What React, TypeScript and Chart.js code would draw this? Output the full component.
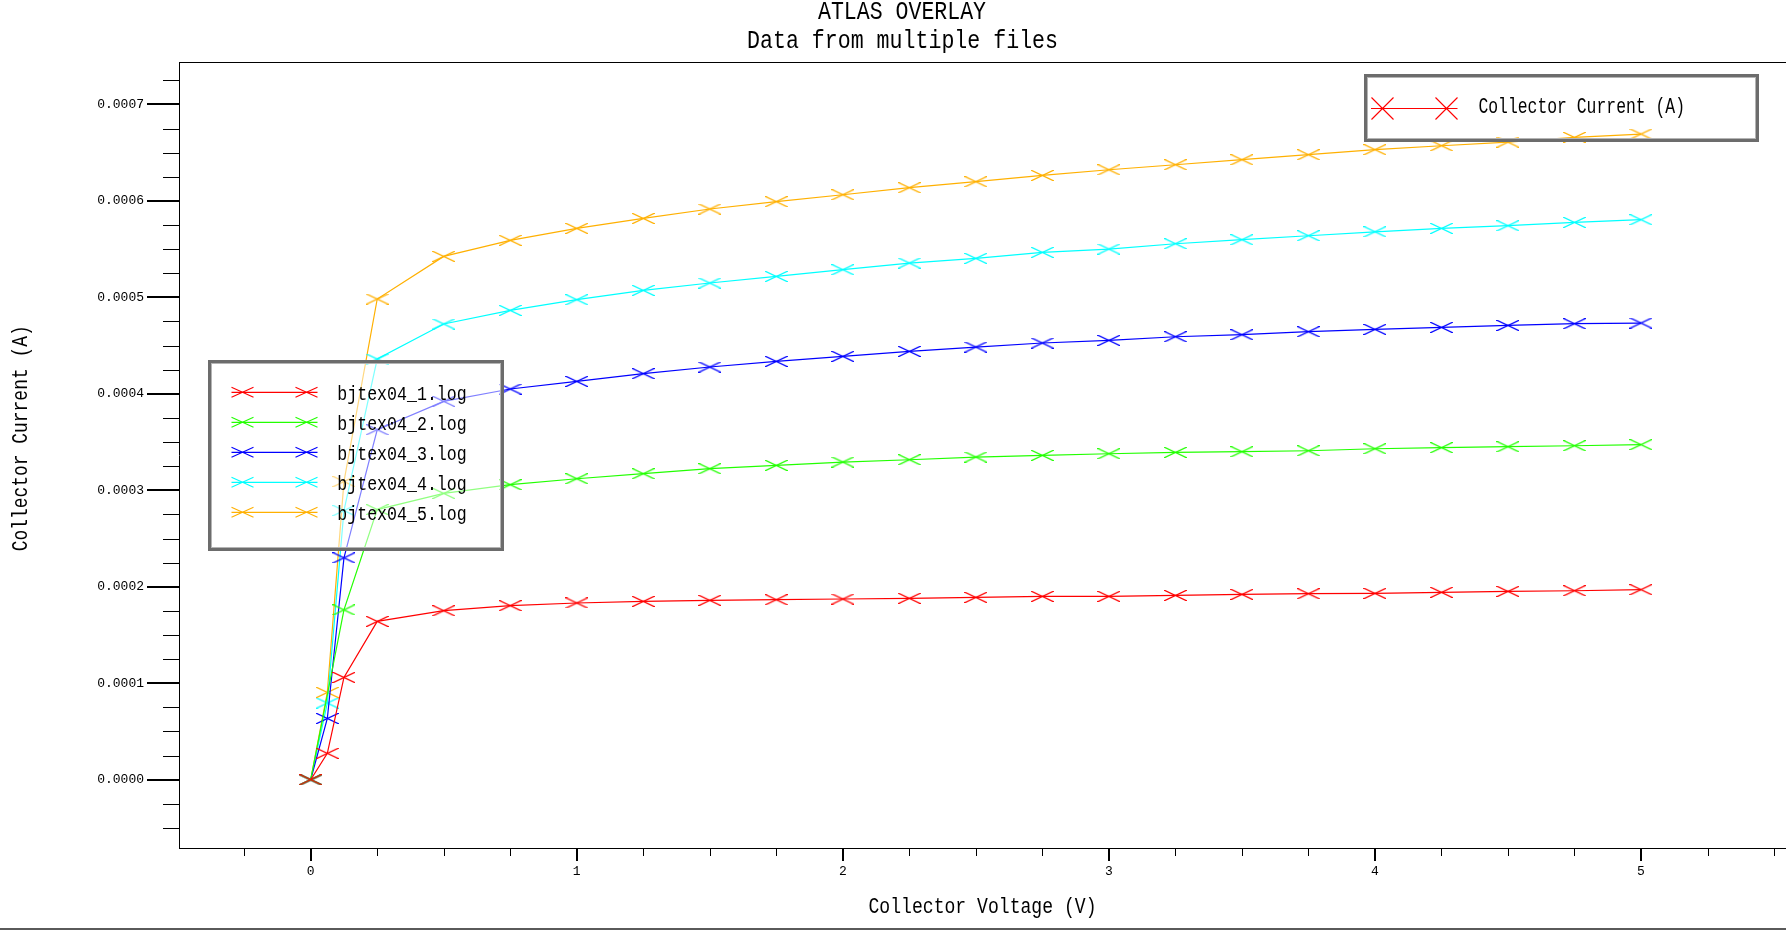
import React, { useEffect, useRef } from 'react';
import { Chart, registerables } from 'chart.js';

Chart.register(...registerables);

// ---------------- data ----------------
const TITLE_LINES = ['ATLAS OVERLAY', 'Data from multiple files'];
const X_TITLE = 'Collector Voltage (V)';
const Y_TITLE = 'Collector Current (A)';
const QUANTITY_LEGEND = 'Collector Current (A)';

const VOLTAGE = [0, 0.0625, 0.125, 0.25, 0.5, 0.75, 1, 1.25, 1.5, 1.75, 2, 2.25, 2.5, 2.75, 3, 3.25, 3.5, 3.75, 4, 4.25, 4.5, 4.75, 5];

const SERIES_NAMES = ['bjtex04_1.log', 'bjtex04_2.log', 'bjtex04_3.log', 'bjtex04_4.log', 'bjtex04_5.log'];
const SERIES_COLORS = ['#ff0000', '#22ff00', '#0000ff', '#00ffff', '#ffb000'];

const CURRENT_1 = [0, 0.0000273, 0.000106, 0.0001641, 0.0001752, 0.0001804, 0.0001832, 0.0001848, 0.0001859, 0.0001866, 0.0001873, 0.000188, 0.000189, 0.00019, 0.00019, 0.000191, 0.0001921, 0.0001928, 0.0001931, 0.0001942, 0.0001952, 0.0001959, 0.000197];
const CURRENT_2 = [0, null, 0.000176, 0.00028, 0.0002968, 0.0003058, 0.000312, 0.0003172, 0.0003224, 0.0003258, 0.0003293, 0.0003317, 0.0003345, 0.0003362, 0.0003379, 0.0003393, 0.00034, 0.000341, 0.0003431, 0.0003442, 0.0003452, 0.0003462, 0.0003473];
const CURRENT_3 = [0, 0.0000635, 0.00023, 0.0003628, 0.0003922, 0.000405, 0.0004129, 0.0004209, 0.0004278, 0.0004336, 0.0004388, 0.000444, 0.0004485, 0.0004527, 0.0004554, 0.0004592, 0.0004613, 0.0004644, 0.0004668, 0.0004689, 0.0004709, 0.0004727, 0.0004734];
const CURRENT_4 = [0, 0.0000795, 0.000279, 0.0004361, 0.0004724, 0.0004865, 0.0004976, 0.0005072, 0.0005149, 0.0005217, 0.0005287, 0.0005356, 0.0005404, 0.0005466, 0.0005501, 0.0005556, 0.0005598, 0.0005639, 0.000568, 0.0005715, 0.0005743, 0.0005777, 0.0005805];
const CURRENT_5 = [0, 0.0000905, 0.000309, 0.0004983, 0.0005425, 0.0005591, 0.0005715, 0.0005818, 0.0005916, 0.0005992, 0.0006064, 0.0006137, 0.0006199, 0.0006264, 0.0006323, 0.0006375, 0.0006427, 0.0006479, 0.0006531, 0.0006572, 0.000661, 0.0006658, 0.0006693];

const SERIES_VALUES = [CURRENT_1, CURRENT_2, CURRENT_3, CURRENT_4, CURRENT_5];

const X_MAJOR_TICKS = [0, 1, 2, 3, 4, 5];
const X_MINOR_TICKS = [-0.25, 0.25, 0.5, 0.75, 1.25, 1.5, 1.75, 2.25, 2.5, 2.75, 3.25, 3.5, 3.75, 4.25, 4.5, 4.75, 5.25, 5.5];
const Y_MAJOR_TICKS = [0, 0.0001, 0.0002, 0.0003, 0.0004, 0.0005, 0.0006, 0.0007];
const Y_MINOR_TICKS = [-0.00005, -0.000025, 0.000025, 0.00005, 0.000075, 0.000125, 0.00015, 0.000175, 0.000225, 0.00025, 0.000275, 0.000325, 0.00035, 0.000375, 0.000425, 0.00045, 0.000475, 0.000525, 0.00055, 0.000575, 0.000625, 0.00065, 0.000675, 0.000725];

const X_MIN = -0.495;
const X_MAX = 5.545;
const Y_MIN = -0.0000708;
const Y_MAX = 0.000744;

// ---------------- helpers ----------------
const FONT = '"Liberation Mono", "DejaVu Sans Mono", monospace';

function makeCross(color: string, w: number, h: number): HTMLCanvasElement {
  const c = document.createElement('canvas');
  c.width = w;
  c.height = h;
  const g = c.getContext('2d')!;
  g.strokeStyle = color;
  g.lineWidth = 1.2;
  g.beginPath();
  g.moveTo(0, 0);
  g.lineTo(w, h);
  g.moveTo(w, 0);
  g.lineTo(0, h);
  g.stroke();
  return c;
}

function drawFitText(
  ctx: CanvasRenderingContext2D,
  text: string,
  x: number,
  y: number,
  size: number,
  width: number,
  align: 'left' | 'center',
  color = '#000'
) {
  ctx.save();
  ctx.font = `${size}px ${FONT}`;
  ctx.textBaseline = 'alphabetic';
  ctx.textAlign = 'left';
  ctx.fillStyle = color;
  const natural = ctx.measureText(text).width;
  const sx = width / natural;
  const x0 = align === 'center' ? x - width / 2 : x;
  ctx.translate(x0, y);
  ctx.scale(sx, 1);
  ctx.fillText(text, 0, 0);
  ctx.restore();
}

function drawCross(ctx: CanvasRenderingContext2D, cx: number, cy: number, hw: number, hh: number, color: string) {
  ctx.save();
  ctx.strokeStyle = color;
  ctx.lineWidth = 1.1;
  ctx.beginPath();
  ctx.moveTo(cx - hw, cy - hh);
  ctx.lineTo(cx + hw, cy + hh);
  ctx.moveTo(cx + hw, cy - hh);
  ctx.lineTo(cx - hw, cy + hh);
  ctx.stroke();
  ctx.restore();
}

function drawBox(ctx: CanvasRenderingContext2D, x0: number, y0: number, x1: number, y1: number, fill: string | null) {
  ctx.save();
  if (fill) {
    ctx.fillStyle = fill;
    ctx.fillRect(x0, y0, x1 - x0, y1 - y0);
  }
  ctx.strokeStyle = '#6c6c6c';
  ctx.lineWidth = 3;
  ctx.strokeRect(x0 + 1.5, y0 + 1.5, x1 - x0 - 3, y1 - y0 - 3);
  ctx.strokeStyle = '#b4b4b4';
  ctx.lineWidth = 1;
  ctx.strokeRect(x0 + 3.5, y0 + 3.5, x1 - x0 - 7, y1 - y0 - 7);
  ctx.restore();
}

const decorPlugin = {
  id: 'atlasDecor',
  afterDraw(chart: any) {
    const ctx: CanvasRenderingContext2D = chart.ctx;
    const area = chart.chartArea;
    const xs = chart.scales.x;
    const ys = chart.scales.y;

    ctx.save();
    ctx.fillStyle = '#000';
    // top frame line
    ctx.fillRect(Math.round(area.left), Math.round(area.top), Math.round(area.right - area.left), 1);

    // y ticks (outside, to the left)
    for (const v of Y_MAJOR_TICKS) {
      const py = Math.round(ys.getPixelForValue(v));
      ctx.fillRect(Math.round(area.left) - 32, py - 1, 32, 2);
    }
    for (const v of Y_MINOR_TICKS) {
      const py = Math.round(ys.getPixelForValue(v));
      ctx.fillRect(Math.round(area.left) - 16, py, 16, 1);
    }
    // x ticks (outside, below)
    const by = Math.round(area.bottom);
    for (const v of X_MAJOR_TICKS) {
      const px = Math.round(xs.getPixelForValue(v));
      ctx.fillRect(px - 1, by, 2, 13);
    }
    for (const v of X_MINOR_TICKS) {
      const px = Math.round(xs.getPixelForValue(v));
      ctx.fillRect(px, by, 1, 8);
    }
    ctx.restore();

    // titles
    drawFitText(ctx, TITLE_LINES[0], 902, 19, 25, 168, 'center');
    drawFitText(ctx, TITLE_LINES[1], 902.5, 47.5, 25, 311, 'center');
    drawFitText(ctx, X_TITLE, (area.left + area.right) / 2, 913, 22, 228, 'center');
    ctx.save();
    ctx.translate(26.8, 438.3);
    ctx.rotate(-Math.PI / 2);
    drawFitText(ctx, Y_TITLE, 0, 0, 22, 226, 'center');
    ctx.restore();

    // series legend (semi-transparent, over the data)
    drawBox(ctx, 208, 360, 504, 551, 'rgba(255,255,255,0.5)');
    SERIES_NAMES.forEach((name, i) => {
      const ry = 392.3 + i * 30;
      const c = SERIES_COLORS[i];
      ctx.save();
      ctx.strokeStyle = c;
      ctx.lineWidth = 1.2;
      ctx.beginPath();
      ctx.moveTo(231.5, ry);
      ctx.lineTo(317.5, ry);
      ctx.stroke();
      ctx.restore();
      drawCross(ctx, 242.5, ry, 11, 5, c);
      drawCross(ctx, 306.5, ry, 11, 5, c);
      drawFitText(ctx, name, 337.3, ry + 7.7, 20, 129.4, 'left');
    });

    // quantity legend (top right)
    drawBox(ctx, 1364, 74, 1759, 142, null);
    ctx.save();
    ctx.strokeStyle = SERIES_COLORS[0];
    ctx.lineWidth = 1.2;
    ctx.beginPath();
    ctx.moveTo(1371, 108.5);
    ctx.lineTo(1457.5, 108.5);
    ctx.stroke();
    ctx.restore();
    drawCross(ctx, 1382.5, 108.5, 11, 11, SERIES_COLORS[0]);
    drawCross(ctx, 1446.5, 108.5, 11, 11, SERIES_COLORS[0]);
    drawFitText(ctx, QUANTITY_LEGEND, 1478.4, 112.7, 22, 206.6, 'left');

    // window bottom line
    ctx.save();
    ctx.fillStyle = '#5a5a5a';
    ctx.fillRect(0, 928, chart.width, 2);
    ctx.restore();
  },
};

export default function App() {
  const ref = useRef<HTMLCanvasElement | null>(null);

  useEffect(() => {
    const canvas = ref.current;
    if (!canvas) return;

    const datasets = SERIES_NAMES.map((name, i) => ({
      label: name,
      data: VOLTAGE.map((v, j) => ({ x: v, y: SERIES_VALUES[i][j] })),
      borderColor: SERIES_COLORS[i],
      backgroundColor: SERIES_COLORS[i],
      borderWidth: 1.2,
      pointStyle: makeCross(SERIES_COLORS[i], 23, 11),
      pointRadius: 11,
      pointHoverRadius: 11,
      spanGaps: true,
      tension: 0,
      fill: false,
    }));

    const chart = new Chart(canvas, {
      type: 'line',
      data: { datasets } as any,
      options: {
        responsive: false,
        animation: false,
        devicePixelRatio: 1,
        events: [],
        layout: { autoPadding: false, padding: { top: 62, left: 0, right: 0, bottom: 0 } },
        plugins: {
          legend: { display: false },
          title: { display: false },
          tooltip: { enabled: false },
        },
        scales: {
          x: {
            type: 'linear',
            position: 'bottom',
            min: X_MIN,
            max: X_MAX,
            afterBuildTicks: (s: any) => {
              s.ticks = X_MAJOR_TICKS.map((v) => ({ value: v }));
            },
            afterFit: (s: any) => {
              s.height = 82;
              s.paddingLeft = 0;
              s.paddingRight = 0;
            },
            grid: { display: false, drawTicks: false },
            border: { display: true, color: '#000', width: 1 },
            ticks: {
              autoSkip: false,
              maxRotation: 0,
              minRotation: 0,
              padding: 16,
              color: '#000',
              font: { family: FONT, size: 13 },
              callback: (v: any) => String(Number(v)),
            },
          },
          y: {
            type: 'linear',
            position: 'left',
            min: Y_MIN,
            max: Y_MAX,
            afterBuildTicks: (s: any) => {
              s.ticks = Y_MAJOR_TICKS.map((v) => ({ value: v }));
            },
            afterFit: (s: any) => {
              s.width = 179;
              s.paddingTop = 0;
              s.paddingBottom = 0;
            },
            grid: { display: false, drawTicks: false },
            border: { display: true, color: '#000', width: 1 },
            ticks: {
              autoSkip: false,
              padding: 35,
              color: '#000',
              font: { family: FONT, size: 13 },
              callback: (v: any) => Number(v).toFixed(4),
            },
          },
        },
      } as any,
      plugins: [decorPlugin],
    });

    return () => chart.destroy();
  }, []);

  return (
    <div style={{ position: 'absolute', left: 0, top: 0, width: 1786, height: 930, background: '#fff' }}>
      <canvas ref={ref} width={1786} height={930} style={{ display: 'block', width: 1786, height: 930 }} />
    </div>
  );
}
